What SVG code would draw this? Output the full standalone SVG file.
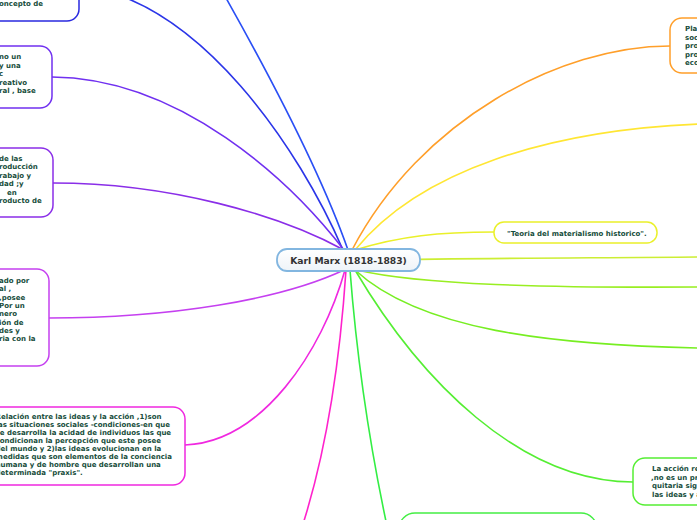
<svg xmlns="http://www.w3.org/2000/svg" width="697" height="520" viewBox="0 0 697 520">
<defs>
<linearGradient id="cg" x1="0" y1="0" x2="0" y2="1"><stop offset="0" stop-color="#ffffff"/><stop offset="1" stop-color="#eef3f8"/></linearGradient>
<style>
.c{fill:none;stroke-width:1.6;stroke-linecap:round}
.n{fill:#ffffff;stroke-width:1.5}
.t{font-family:"DejaVu Sans",Verdana,sans-serif;font-weight:bold;font-size:7px;fill:#174d3b}
</style>
</defs>
<rect width="697" height="520" fill="#ffffff"/>
<g id="connectors">
<path class="c" stroke="#2b35e8" d="M343,250 C300,150 200,0 80,-14"/>
<path class="c" stroke="#2a4ff5" d="M348,250 C320,170 262,62 226,-2"/>
<path class="c" stroke="#7030f0" d="M52,77 C180,78 290,180 344,250"/>
<path class="c" stroke="#8a2ee8" d="M53,183 C170,183 280,215 344,250"/>
<path class="c" stroke="#c540f0" d="M49,318 C170,318 280,300 344,270"/>
<path class="c" stroke="#f028e0" d="M185,445 C262,442 322,352 345,270"/>
<path class="c" stroke="#ff22cc" d="M346,270 Q336,420 303,524"/>
<path class="c" stroke="#33ee44" d="M350,270 Q360,400 387,526"/>
<path class="c" stroke="#55ee33" d="M355,270 C420,380 520,482 633,482"/>
<path class="c" stroke="#77ee22" d="M355,270 C420,330 550,345 700,348"/>
<path class="c" stroke="#99ee22" d="M357,270 C420,285 550,288 700,287"/>
<path class="c" stroke="#ccee33" d="M380,260 C480,258 600,258 700,257"/>
<path class="c" stroke="#eaf02a" d="M355,250 C400,236 440,232 494,232"/>
<path class="c" stroke="#ffe633" d="M355,250 C420,170 550,130 700,124"/>
<path class="c" stroke="#ff9f2a" d="M352,250 C420,120 560,46 670,46"/>
</g>
<g id="node-1">
<rect class="n" stroke="#2a2ae0" x="-20" y="-40" width="99" height="61" rx="12"/>
<text class="t" x="-1" y="6">oncepto de</text>
</g>
<g id="node-2">
<rect class="n" stroke="#7030f0" x="-20" y="46" width="72" height="62" rx="12"/>
<text class="t" x="-1" y="59">no un</text>
<text class="t" x="-1" y="67.5">y una</text>
<text class="t" x="-1" y="76">c</text>
<text class="t" x="-1" y="84.5">reativo</text>
<text class="t" x="-1" y="93">ral , base</text>
</g>
<g id="node-3">
<rect class="n" stroke="#8a2ee8" x="-20" y="148" width="73" height="69" rx="12"/>
<text class="t" x="-1" y="160.5">de las</text>
<text class="t" x="-1" y="169">roducción</text>
<text class="t" x="-1" y="177.5">rabajo y</text>
<text class="t" x="-1" y="186">dad ;y</text>
<text class="t" x="7" y="194.5">en</text>
<text class="t" x="-1" y="203">roducto de</text>
</g>
<g id="node-4">
<rect class="n" stroke="#c540f0" x="-20" y="269" width="69" height="97" rx="12"/>
<text class="t" x="-1" y="283">ado por</text>
<text class="t" x="-1" y="291.3">al ,</text>
<text class="t" x="-1" y="299.6">,posee</text>
<text class="t" x="-1" y="307.9">Por  un</text>
<text class="t" x="-1" y="316.2">nero</text>
<text class="t" x="-1" y="324.5">ión de</text>
<text class="t" x="-1" y="332.8">des y</text>
<text class="t" x="-1" y="341.1">ria con la</text>
</g>
<g id="node-5">
<rect class="n" stroke="#f028e0" x="-20" y="407" width="205" height="78" rx="12"/>
<text class="t" x="-4.4" y="419">Relación entre las ideas y la acción ,1)son</text>
<text class="t" x="-4.4" y="427">las situaciones sociales -condiciones-en que</text>
<text class="t" x="-4.4" y="435">se desarrolla la acidad de individuos las que</text>
<text class="t" x="-4.4" y="443">condicionan la percepción que este posee</text>
<text class="t" x="-4.4" y="451">del mundo y 2)las ideas evolucionan en la</text>
<text class="t" x="-4.4" y="459">medidas que son elementos de la conciencia</text>
<text class="t" x="-4.4" y="467">humana y de hombre que desarrollan una</text>
<text class="t" x="-4.4" y="475">determinada "praxis".</text>
</g>
<g id="node-orange">
<rect class="n" stroke="#ff9f2a" x="670" y="18" width="60" height="55" rx="12"/>
<text class="t" x="685" y="31">Pla</text>
<text class="t" x="685" y="39.5">soc</text>
<text class="t" x="685" y="48">pro</text>
<text class="t" x="685" y="56.5">pro</text>
<text class="t" x="685" y="65">eco</text>
</g>
<g id="node-yellow">
<rect class="n" stroke="#eaf02a" x="494" y="222" width="163" height="21" rx="10"/>
<text class="t" x="507" y="235.5">"Teoria del materialismo historico".</text>
</g>
<g id="node-green-right">
<rect class="n" stroke="#55ee33" x="633" y="458" width="100" height="47" rx="12"/>
<text class="t" x="652" y="471">La acción re</text>
<text class="t" x="651" y="479.5">,no es un pr</text>
<text class="t" x="652" y="488">quitaria sig</text>
<text class="t" x="652" y="496.5">las ideas y a</text>
</g>
<g id="node-green-bottom">
<rect class="n" stroke="#44ee44" x="399" y="513" width="198" height="60" rx="16"/>
</g>
<g id="node-center">
<rect fill="url(#cg)" stroke="#82b6e0" stroke-width="1.8" x="277" y="249" width="143" height="22" rx="10"/>
<text x="348.5" y="264" text-anchor="middle" font-family="'DejaVu Sans',Verdana,sans-serif" font-weight="bold" font-size="9.2" fill="#333333">Karl Marx (1818-1883)</text>
</g>
</svg>
